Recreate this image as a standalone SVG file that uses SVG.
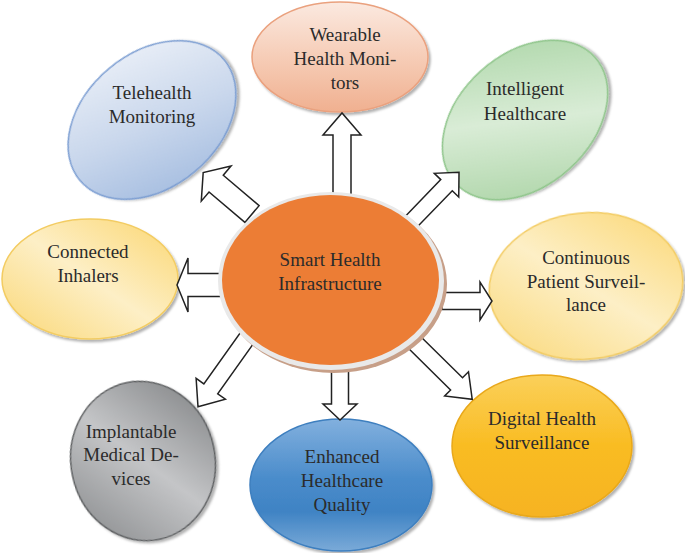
<svg xmlns="http://www.w3.org/2000/svg" width="685" height="553" viewBox="0 0 685 553">
<defs>
<filter id="sh" x="-10%" y="-10%" width="125%" height="125%">
<feDropShadow dx="2" dy="2.5" stdDeviation="1" flood-color="#000" flood-opacity="0.3"/>
</filter>
<linearGradient id="gTele" x1="0.6" y1="0" x2="0.2" y2="1">
<stop offset="0" stop-color="#e6ecf6"/><stop offset="0.5" stop-color="#c9d7ec"/><stop offset="1" stop-color="#a5bde0"/>
</linearGradient>
<linearGradient id="gWear" x1="0" y1="0" x2="0" y2="1">
<stop offset="0" stop-color="#fbe9e0"/><stop offset="0.5" stop-color="#f6cdb7"/><stop offset="1" stop-color="#f0b090"/>
</linearGradient>
<linearGradient id="gGreen" x1="1" y1="0" x2="0" y2="1">
<stop offset="0" stop-color="#a6d3a1"/><stop offset="0.5" stop-color="#d9ecd6"/><stop offset="1" stop-color="#a4d09e"/>
</linearGradient>
<linearGradient id="gYel" x1="1" y1="0" x2="0" y2="1">
<stop offset="0" stop-color="#fbd670"/><stop offset="0.5" stop-color="#fdefc6"/><stop offset="1" stop-color="#fad775"/>
</linearGradient>
<linearGradient id="gGold" x1="0" y1="0" x2="0" y2="1">
<stop offset="0" stop-color="#fbd05a"/><stop offset="0.5" stop-color="#f9bc22"/><stop offset="1" stop-color="#f6b324"/>
</linearGradient>
<linearGradient id="gBlue" x1="0" y1="0" x2="0" y2="1">
<stop offset="0" stop-color="#82b0de"/><stop offset="0.45" stop-color="#4a8ccb"/><stop offset="0.7" stop-color="#3f83c4"/><stop offset="1" stop-color="#7aaad8"/>
</linearGradient>
<linearGradient id="gGray" x1="1" y1="0" x2="0" y2="1">
<stop offset="0" stop-color="#7c7e80"/><stop offset="0.5" stop-color="#c4c5c7"/><stop offset="1" stop-color="#86888a"/>
</linearGradient>
<style>
.t{font-family:"Liberation Serif","Times New Roman",serif;font-size:19px;fill:#2b2b2b;text-anchor:middle}
.ar{fill:#ffffff;stroke:#222222;stroke-width:1.5;stroke-linejoin:miter}
</style>
</defs>

<g id="telehealth">
<ellipse cx="152" cy="120" rx="94" ry="67" transform="rotate(-40 152 120)" fill="url(#gTele)" stroke="#7a9dd2" stroke-width="1.5" filter="url(#sh)"/>
<text class="t" x="152" y="99">Telehealth</text>
<text class="t" x="152" y="123">Monitoring</text>
</g>

<g id="wearable">
<ellipse cx="340" cy="57" rx="88" ry="55" fill="url(#gWear)" stroke="#eaa17e" stroke-width="1.5" filter="url(#sh)"/>
<text class="t" x="345" y="41">Wearable</text>
<text class="t" x="345" y="65">Health Moni-</text>
<text class="t" x="345" y="89">tors</text>
</g>

<g id="intelligent">
<ellipse cx="525" cy="120" rx="94" ry="66" transform="rotate(-42 525 120)" fill="url(#gGreen)" stroke="#8ec58a" stroke-width="1.5" filter="url(#sh)"/>
<text class="t" x="525" y="95">Intelligent</text>
<text class="t" x="525" y="120">Healthcare</text>
</g>

<g id="continuous">
<ellipse cx="586" cy="286" rx="97" ry="73" transform="rotate(-6 586 286)" fill="url(#gYel)" stroke="#f3cc62" stroke-width="1.5" filter="url(#sh)"/>
<text class="t" x="586" y="264">Continuous</text>
<text class="t" x="586" y="288">Patient Surveil-</text>
<text class="t" x="586" y="311">lance</text>
</g>

<g id="connected">
<ellipse cx="90" cy="279" rx="88" ry="60" fill="url(#gYel)" stroke="#f3cc62" stroke-width="1.5" filter="url(#sh)"/>
<text class="t" x="88" y="258">Connected</text>
<text class="t" x="88" y="282">Inhalers</text>
</g>

<g id="digital">
<ellipse cx="542" cy="446" rx="90" ry="71" fill="url(#gGold)" stroke="#e9a81a" stroke-width="1.5" filter="url(#sh)"/>
<text class="t" x="542" y="425">Digital Health</text>
<text class="t" x="542" y="449">Surveillance</text>
</g>

<g id="enhanced">
<ellipse cx="341" cy="485" rx="91" ry="66" fill="url(#gBlue)" stroke="#3e7fbf" stroke-width="1.5" filter="url(#sh)"/>
<text class="t" x="342" y="463">Enhanced</text>
<text class="t" x="342" y="487">Healthcare</text>
<text class="t" x="342" y="511">Quality</text>
</g>

<g id="implantable">
<ellipse cx="143" cy="461" rx="72" ry="80" transform="rotate(-12 143 461)" fill="url(#gGray)" stroke="#5e6062" stroke-width="1.5" filter="url(#sh)"/>
<text class="t" x="131" y="438">Implantable</text>
<text class="t" x="131" y="461">Medical De-</text>
<text class="t" x="131" y="485">vices</text>
</g>

<g id="connectors">
<polygon class="ar" transform="translate(342,199) rotate(-90)" points="0,-9 64,-9 64,-19 86,0 64,19 64,9 0,9"/>
<polygon class="ar" transform="translate(340,355) rotate(90)" points="0,-8.5 49,-8.5 49,-17 65,0 49,17 49,8.5 0,8.5"/>
<polygon class="ar" transform="translate(224,285) rotate(180)" points="0,-11.5 36,-11.5 36,-27 47,0 36,27 36,11.5 0,11.5"/>
<polygon class="ar" transform="translate(442,301)" points="0,-8.5 38,-8.5 38,-19 50,0 38,19 38,8.5 0,8.5"/>
<polygon class="ar" transform="translate(252,214) rotate(-139.7)" points="0,-11 47,-11 47,-23 64,0 47,23 47,11 0,11"/>
<polygon class="ar" transform="translate(409,224) rotate(-46)" points="0,-8 54,-8 54,-17 72,0 54,17 54,8 0,8"/>
<polygon class="ar" transform="translate(252,331) rotate(125.5)" points="0,-8.5 71,-8.5 71,-18 93,0 71,18 71,8.5 0,8.5"/>
<polygon class="ar" transform="translate(406,334) rotate(44.6)" points="0,-8.5 71,-8.5 71,-17 93,0 71,17 71,8.5 0,8.5"/>
</g>

<g id="center">
<ellipse cx="334" cy="284" rx="113" ry="89" fill="#c79f88"/>
<ellipse cx="331" cy="281" rx="113" ry="89" fill="#e9e9e9"/>
<ellipse cx="330.5" cy="280" rx="108.5" ry="85" fill="#ec7d35"/>
<text class="t" x="330" y="266">Smart Health</text>
<text class="t" x="330" y="290">Infrastructure</text>
</g>
</svg>
